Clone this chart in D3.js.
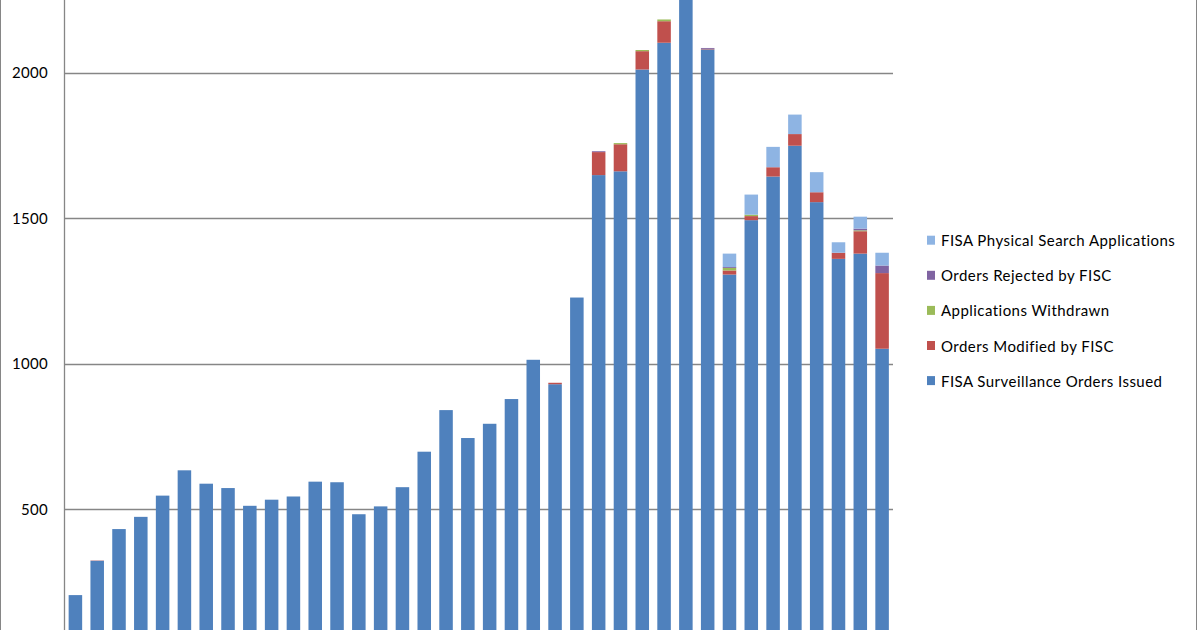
<!DOCTYPE html>
<html>
<head>
<meta charset="utf-8">
<script src="https://cdn.jsdelivr.net/npm/d3@7"></script>
<style>
  body { margin: 0; background: #fff; }
  text { font-family: Lato, "Open Sans", sans-serif; fill: #000; }
</style>
</head>
<body>
<script>
// FISA orders per year
var years = [1979, 1980, 1981, 1982, 1983, 1984, 1985, 1986, 1987, 1988,
             1989, 1990, 1991, 1992, 1993, 1994, 1995, 1996, 1997, 1998,
             1999, 2000, 2001, 2002, 2003, 2004, 2005, 2006, 2007, 2008,
             2009, 2010, 2011, 2012, 2013, 2014, 2015, 2016];

var ordersIssued = [204, 322, 431, 473, 546, 633, 587, 572, 511, 532,
                    543, 594, 592, 482, 509, 575, 697, 840, 744, 793,
                    878, 1013, 929, 1227, 1648, 1661, 2011, 2103, 2370, 2080,
                    1306, 1493, 1643, 1749, 1555, 1360, 1378, 1051];
var ordersModified = [0, 1, 0, 0, 0, 0, 0, 0, 0, 0,
                      0, 0, 0, 0, 0, 0, 0, 0, 0, 0,
                      0, 0, 5, 0, 79, 93, 63, 74, 0, 2,
                      14, 14, 32, 40, 34, 21, 77, 260];
var appsWithdrawn = [0, 0, 0, 0, 0, 0, 0, 0, 0, 0,
                     0, 0, 0, 0, 0, 0, 0, 0, 0, 0,
                     0, 0, 0, 0, 0, 4, 4, 6, 0, 0,
                     9, 5, 0, 0, 0, 0, 3, 0];
var ordersRejected = [0, 0, 0, 0, 0, 0, 0, 0, 0, 0,
                      0, 0, 0, 0, 0, 0, 0, 0, 0, 0,
                      0, 0, 0, 0, 3, 0, 0, 0, 0, 3,
                      3, 0, 0, 0, 0, 0, 6, 26];
var physicalSearch = [0, 0, 0, 0, 0, 0, 0, 0, 0, 0,
                      0, 0, 0, 0, 0, 0, 0, 0, 0, 0,
                      0, 0, 0, 0, 0, 0, 0, 0, 0, 0,
                      46, 69, 70, 67, 69, 36, 41, 44];

var seriesNames = ["FISA Surveillance Orders Issued", "Orders Modified by FISC",
                   "Applications Withdrawn", "Orders Rejected by FISC",
                   "FISA Physical Search Applications"];
var seriesColors = ["#4F81BD", "#C0504D", "#9BBB59", "#8064A2", "#8EB4E3"];
var yTicks = [500, 1000, 1500, 2000];

var width = 1200,
    height = 630;

var table = years.map(function(y, i) {
    var row = {year: y};
    row[seriesNames[0]] = ordersIssued[i];
    row[seriesNames[1]] = ordersModified[i];
    row[seriesNames[2]] = appsWithdrawn[i];
    row[seriesNames[3]] = ordersRejected[i];
    row[seriesNames[4]] = physicalSearch[i];
    return row;
});

var stacked = d3.stack().keys(seriesNames)(table);

var svg = d3.select("body").append("svg")
    .attr("width", width)
    .attr("height", height);

var x = d3.scaleBand()
    .domain(years)
    .range([64.5, 893])
    .paddingInner(0.38)
    .paddingOuter(0.19);

var y = d3.scaleLinear()
    .domain([500, 2000])
    .range([509, 72.7]);

var color = d3.scaleOrdinal().domain(seriesNames).range(seriesColors);

// chart frame edges
svg.append("line")
    .attr("x1", 0.5).attr("x2", 0.5).attr("y1", 0).attr("y2", height)
    .attr("stroke", "#868686");
svg.append("line")
    .attr("x1", 1196.5).attr("x2", 1196.5).attr("y1", 0).attr("y2", height)
    .attr("stroke", "#868686");

// gridlines
svg.append("g")
    .selectAll("line")
    .data(yTicks)
    .enter().append("line")
    .attr("x1", 64.5)
    .attr("x2", 893)
    .attr("y1", function(d) { return Math.round(y(d)) + 0.5; })
    .attr("y2", function(d) { return Math.round(y(d)) + 0.5; })
    .attr("stroke", "#868686")
    .attr("stroke-width", 1.3);

// y axis labels
svg.append("g")
    .selectAll("text")
    .data(yTicks)
    .enter().append("text")
    .attr("x", 48)
    .attr("y", function(d) { return y(d) + 5.5; })
    .attr("text-anchor", "end")
    .style("font-size", "15px")
    .style("letter-spacing", "0.3px")
    .text(function(d) { return d; });

// stacked bars
svg.append("g")
    .selectAll("g")
    .data(stacked)
    .enter().append("g")
    .attr("fill", function(d) { return color(d.key); })
    .selectAll("rect")
    .data(function(d) { return d; })
    .enter().append("rect")
    .attr("x", function(d) { return x(d.data.year); })
    .attr("width", x.bandwidth())
    .attr("y", function(d) { return y(d[1]); })
    .attr("height", function(d) { return Math.max(0, y(d[0]) - y(d[1])); });

// axis line
svg.append("line")
    .attr("x1", 64.5).attr("x2", 64.5).attr("y1", 0).attr("y2", height)
    .attr("stroke", "#868686")
    .attr("stroke-width", 1.3);

// legend, top entry is the top of the stack
var legend = svg.append("g")
    .selectAll("g")
    .data(seriesNames.slice().reverse())
    .enter().append("g")
    .attr("transform", function(d, i) { return "translate(927," + (240.7 + i * 35.1) + ")"; });

legend.append("rect")
    .attr("x", 0)
    .attr("y", -5)
    .attr("width", 8)
    .attr("height", 9)
    .attr("fill", function(d) { return color(d); });

legend.append("text")
    .attr("x", 14)
    .attr("y", 5.5)
    .style("font-size", "15px")
    .style("letter-spacing", "0.45px")
    .text(function(d) { return d; });
</script>
</body>
</html>
